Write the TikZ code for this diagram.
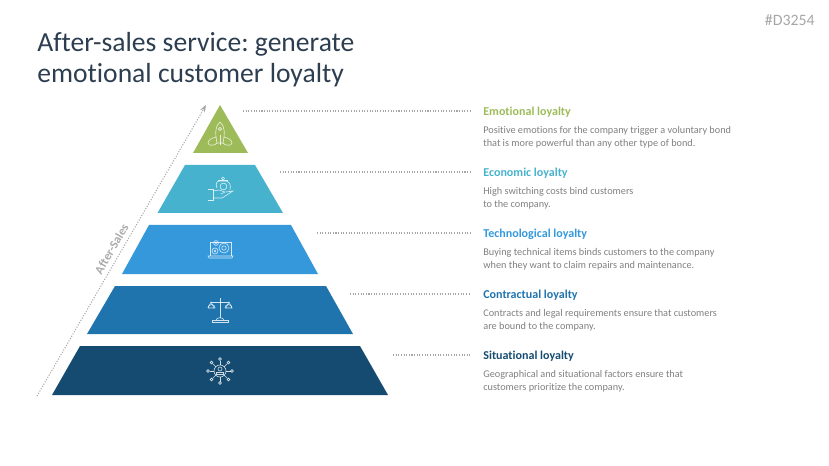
\documentclass[tikz,border=0pt]{standalone}
\usepackage{fontspec}
\setmainfont[RawFeature={-liga;-clig;-dlig}]{Carlito}
\usetikzlibrary{arrows.meta,calc}
\frenchspacing
\definecolor{cEmo}{HTML}{9DBB59}
\definecolor{cEco}{HTML}{47B2CE}
\definecolor{cTec}{HTML}{3498DB}
\definecolor{cCon}{HTML}{1F74AE}
\definecolor{cSit}{HTML}{154B70}
\definecolor{cTitle}{HTML}{2C3E50}
\definecolor{cBody}{HTML}{808080}
\tikzset{
	layer/.style={fill=#1},
	leader/.style={draw=black!35,line width=0.6pt,dash pattern=on 0.6pt off 0.9pt},
	heading/.style={anchor=west,inner sep=0pt,font=\fontsize{6.85}{8}\selectfont\bfseries},
	bodytext/.style={anchor=north west,inner sep=0pt,align=left,text=cBody,font=\fontsize{5.84}{7.4}\selectfont},
	icon/.style={draw=white,draw opacity=0.8,line width=0.35pt,fill=none},
}
\begin{document}
\begin{tikzpicture}[x=0.02cm,y=-0.02cm]
		\useasboundingbox (0,0) rectangle (829,466);
		\node[anchor=north west,inner sep=0pt,align=left,text=cTitle,font=\fontsize{15.7}{17.8}\selectfont] (title) at (37,32) {After-sales service: generate\\emotional customer loyalty};
		\node[anchor=east,inner sep=0pt,text=black!35,font=\fontsize{9}{10}\selectfont] (code) at (815,20) {\#D3254};
		% layers of the pyramid
		\fill[layer=cEmo] (220,105) -- (248,153) -- (193,153) -- cycle;
		\foreach \tl/\tr/\bl/\br/\ty/\by/\col in {185/255/157.5/283/165/213/cEco,
			149/291/122/318/225/274/cTec,
			115/326/87/353/286/334/cCon,
			80/360/52/388/346/395/cSit}{
			\fill[layer=\col] (\tl,\ty) -- (\tr,\ty) -- (\br,\by) -- (\bl,\by) -- cycle;
		}
		% texts and leader lines
		\foreach \name/\col/\y/\sx/\head/\lone/\ltwo in {
			emo/cEmo/111/243/Emotional loyalty/Positive emotions for the company trigger a voluntary bond/that is more powerful than any other type of bond.,
			eco/cEco/172/280/Economic loyalty/High switching costs bind customers/to the company.,
			tec/cTec/233/317/Technological loyalty/Buying technical items binds customers to the company/when they want to claim repairs and maintenance.,
			con/cCon/294/350/Contractual loyalty/Contracts and legal requirements ensure that customers/are bound to the company.,
			sit/cSit/355/393/Situational loyalty/Geographical and situational factors ensure that/customers prioritize the company.}{
			\node[heading,text=\col] (\name head) at (483,\y+0.8) {\head};
			\node[bodytext] (\name body) at (483,\y+15) {\lone\\\ltwo};
			\coordinate (\name start) at (\sx,\y);
			\coordinate (\name end) at (470,\y);
			\draw[leader] (\name start) -- (\name end);
		}
		% after-sales arrow
		\coordinate (asbottom) at (37,396);
		\coordinate (astop) at (206,105);
		\draw[leader,-{Stealth[length=4pt,width=3pt]}] (asbottom) -- (astop);
		\node[rotate=60,inner sep=0pt,text=black!33,font=\fontsize{7}{8}\selectfont\bfseries] (aslabel) at (111.5,249) {After-Sales};
		% rocket
		\begin{scope}[shift={(220,134)}]
			\draw[icon] (0,-12) .. controls (-5,-8) and (-5,-1) .. (-3,9) -- (3,9) .. controls (5,-1) and (5,-8) .. (0,-12);
			\draw[icon] (0,-5) circle (1.6);
			\draw[icon] (-4,3) .. controls (-8,4) and (-12,6) .. (-12,9) .. controls (-12,12) and (-5,12) .. (-3,9);
			\draw[icon] (4,3) .. controls (8,4) and (12,6) .. (12,9) .. controls (12,12) and (5,12) .. (3,9);
			\draw[icon] (0,1) -- (0,11);
		\end{scope}
		% purse on a hand
		\begin{scope}[shift={(220,189)}]
			\draw[icon] (-3,-1) .. controls (-5,-6) and (-3,-8) .. (0,-8) -- (6,-8) .. controls (10,-7) and (11,-4) .. (10,1);
			\draw[icon] (-2,-9) -- (8,-9);
			\draw[icon] (3,-10.5) circle (1.5);
			\draw[icon] (3.5,-2.5) circle (3.4);
			\draw[icon] (-12,0) -- (-7,0) -- (-7,11) -- (-12,11);
			\draw[icon] (-7,2) -- (-1,1) -- (5,3) -- (1,5) (-7,9) -- (2,9) -- (13,2) -- (6,3);
		\end{scope}
		% laptop with gears
		\begin{scope}[shift={(220,250)}]
			\draw[icon] (-10,6) -- (-10,-8) -- (11,-8) -- (11,6);
			\draw[icon] (-12,6) -- (13,6) -- (12,8) -- (-11,8) -- cycle;
			\draw[icon] (4,-2) circle (5) (4,-2) circle (2.2);
			\draw[icon] (-5,1) circle (3) (-5,1) circle (1);
			\draw[icon] (-4,-7) circle (2.4) (-4,-7) circle (.8);
		\end{scope}
		% scales
		\begin{scope}[shift={(220,311)}]
			\draw[icon] (0,-13) -- (0,7);
			\draw[icon] (-9,-9) -- (9,-9);
			\draw[icon] (-12,-3) -- (-9,-9) -- (-6,-3) (12,-3) -- (9,-9) -- (6,-3);
			\draw[icon] (-12,-3) -- (-5,-3) arc (0:-180:3.5) (5,-3) -- (12,-3) arc (0:-180:3.5);
			\draw[icon] (-8,9) -- (8,9) -- (8,11) -- (-8,11) -- cycle;
			\draw[icon] (-4,9) .. controls (-3,6) and (3,6) .. (4,9);
		\end{scope}
		% network around a person
		\begin{scope}[shift={(220,371)}]
			\draw[icon] (0,0) circle (6);
			\draw[icon] (0,-2) circle (2);
			\draw[icon] (-3.5,3) -- (-3.5,1.5) -- (3.5,1.5) -- (3.5,3) -- cycle;
			\foreach \a in {0,45,...,315}{
				\draw[icon] (\a:6) -- (\a:10.5);
				\draw[icon] (\a:12) circle (1.4);
			}
		\end{scope}
	\end{tikzpicture}
\end{document}
